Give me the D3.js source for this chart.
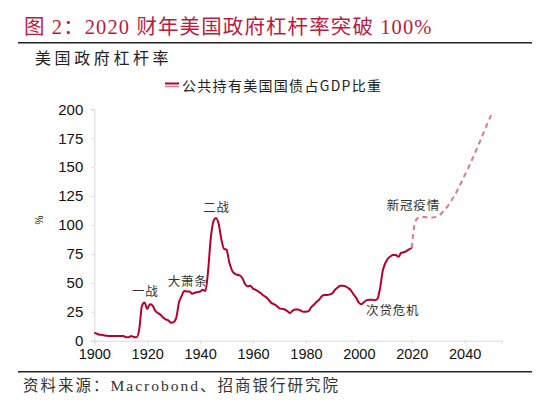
<!DOCTYPE html>
<html>
<head>
<meta charset="utf-8">
<script src="https://cdn.jsdelivr.net/npm/d3@7"></script>
<style>
  html, body { margin: 0; padding: 0; background: #fff; }
  svg { display: block; }
</style>
</head>
<body>
<svg id="chart" width="554" height="405" viewBox="0 0 554 405"></svg>
<script>
// --- data ---
const histYears = d3.range(1900, 2021);
const histValues = [
  7, 6, 5.2, 5, 4.5, 4.2, 4, 4, 4, 4,          // 1900-1909
  4, 4, 3, 3, 4, 3.2, 3, 10, 30, 33,           // 1910-1919
  27.5, 31.5, 30.5, 26, 24, 22.5, 20, 18.5, 17.5, 15.5, // 1920-1929
  16, 20, 33, 38.5, 43, 42.5, 42.5, 40.5, 41.5, 42,     // 1930-1939
  42.5, 44, 43, 60, 88, 103, 106, 101, 88, 79.5,        // 1940-1949
  78.5, 68, 61, 58, 57, 56.5, 54, 49, 47, 47.5,         // 1950-1959
  45, 44, 42.5, 41, 39, 37.5, 35, 32.5, 31.5, 30,       // 1960-1969
  28, 27.5, 27, 25.5, 24, 26, 27, 27, 26, 25,           // 1970-1979
  25, 25.5, 29, 31, 33.5, 35.5, 38.5, 39.5, 39.5, 40,   // 1980-1989
  41, 44, 46, 47.5, 47.5, 47, 45.5, 43.5, 40, 37,       // 1990-1999
  33, 31.5, 33.5, 35, 35.5, 35.5, 35, 36, 45, 60,       // 2000-2009
  67, 71, 73, 74, 74, 72.5, 76, 76.5, 77.5, 79,         // 2010-2019
  80                                                    // 2020
];
const projYears = d3.range(2020, 2051);
const projValues = [
  80, 100, 105.5, 106.5, 107, 107, 106.5, 106.5, 106.5, 107,   // 2020-2029
  108, 109.5, 112, 114.5, 117.5, 121, 125, 129, 133.5, 138,    // 2030-2039
  143, 147.5, 152.5, 157.5, 163, 168, 173.5, 179, 184.5, 190,  // 2040-2049
  195                                                          // 2050
];
const yTicks = [0, 25, 50, 75, 100, 125, 150, 175, 200];
const xTicks = [1900, 1920, 1940, 1960, 1980, 2000, 2020, 2040];
const notes = [
  { text: "一战", year: 1919.3, value: 41.5 },
  { text: "大萧条", year: 1935.3, value: 50 },
  { text: "二战", year: 1946.2, value: 114 },
  { text: "次贷危机", year: 2012.8, value: 25.5 },
  { text: "新冠疫情", year: 2020.6, value: 115.5 }
];

const titleText = "图 2：2020 财年美国政府杠杆率突破 100%";
const subTitle = "美国政府杠杆率";
const legendText = "公共持有美国国债占GDP比重";
const sourceText = "资料来源：Macrobond、招商银行研究院";

// --- styles ---
const red = "#b5002b";
const pink = "#d9798b";
const axisGrey = "#d9d9d9";
const cjk = "'Noto Sans CJK SC', sans-serif";
const serif = "'Liberation Serif', 'Noto Sans CJK SC', serif";
const sans = "'Liberation Sans', Arial, sans-serif";

const svg = d3.select("#chart");

const x = d3.scaleLinear().domain([1900, 2054]).range([94.3, 501.7]);
const y = d3.scaleLinear().domain([0, 200]).range([340.7, 109.3]);

// header
svg.append("text")
  .attr("x", 24).attr("y", 33.5)
  .style("font-family", serif).style("font-size", "20.5px")
  .style("letter-spacing", "1.1px")
  .style("fill", "#bd1a3f")
  .text(titleText);

svg.append("line")
  .attr("x1", 18).attr("x2", 532).attr("y1", 42.7).attr("y2", 42.7)
  .style("stroke", "#222").style("stroke-width", 1.6);

svg.append("text")
  .attr("x", 35).attr("y", 64)
  .style("font-family", cjk).style("font-size", "16px")
  .style("letter-spacing", "3.6px").style("fill", "#222")
  .text(subTitle);

// legend
const lg = svg.append("g");
lg.append("line").attr("x1", 165).attr("x2", 179).attr("y1", 83.5).attr("y2", 83.5)
  .style("stroke", red).style("stroke-width", 2);
lg.append("line").attr("x1", 165).attr("x2", 179).attr("y1", 86.5).attr("y2", 86.5)
  .style("stroke", pink).style("stroke-width", 1.5);
lg.append("text")
  .attr("x", 182).attr("y", 90.5)
  .style("font-family", cjk).style("font-size", "14px")
  .style("letter-spacing", "1.3px").style("fill", "#222")
  .text(legendText);

// axes
const yAxis = svg.append("g")
  .attr("transform", "translate(94.3,0)")
  .call(d3.axisLeft(y).tickValues(yTicks).tickSize(3).tickPadding(8));
const xAxis = svg.append("g")
  .attr("transform", "translate(0,340.7)")
  .call(d3.axisBottom(x).tickValues(xTicks).tickFormat(d3.format("d")).tickSize(3).tickPadding(5));

[yAxis, xAxis].forEach(g => {
  g.select(".domain").style("stroke", axisGrey).style("stroke-width", 1);
  g.selectAll(".tick line").style("stroke", axisGrey);
  g.selectAll(".tick text").style("font-family", sans).style("fill", "#111");
});
yAxis.selectAll(".tick text").style("font-size", "15px");
xAxis.selectAll(".tick text").style("font-size", "14.5px");

svg.append("text")
  .attr("transform", "translate(43,220) rotate(-90)")
  .attr("text-anchor", "middle")
  .style("font-family", sans).style("font-size", "10px").style("fill", "#222")
  .text("%");

// lines
const line = d3.line()
  .x(d => x(d[0])).y(d => y(d[1]))
  .curve(d3.curveMonotoneX);

svg.append("path")
  .datum(projYears.map((yr, i) => [yr, projValues[i]]))
  .attr("d", line)
  .style("fill", "none").style("stroke", pink)
  .style("stroke-width", 2).style("stroke-dasharray", "5,4");

svg.append("path")
  .datum(histYears.map((yr, i) => [yr, histValues[i]]))
  .attr("d", line)
  .style("fill", "none").style("stroke", red)
  .style("stroke-width", 2).style("stroke-linejoin", "round");

// annotations
svg.selectAll("text.note")
  .data(notes).enter().append("text")
  .attr("class", "note")
  .attr("x", d => x(d.year)).attr("y", d => y(d.value))
  .attr("text-anchor", "middle").attr("dominant-baseline", "middle")
  .style("font-family", cjk).style("font-size", "12.5px")
  .style("letter-spacing", "0.8px").style("fill", "#333")
  .text(d => d.text);

// footer
svg.append("line")
  .attr("x1", 18).attr("x2", 532).attr("y1", 371.7).attr("y2", 371.7)
  .style("stroke", "#222").style("stroke-width", 1.6);

svg.append("text")
  .attr("x", 23).attr("y", 390.5)
  .style("font-family", serif).style("font-size", "15.5px")
  .style("letter-spacing", "2px").style("fill", "#333")
  .text(sourceText);
</script>
</body>
</html>
